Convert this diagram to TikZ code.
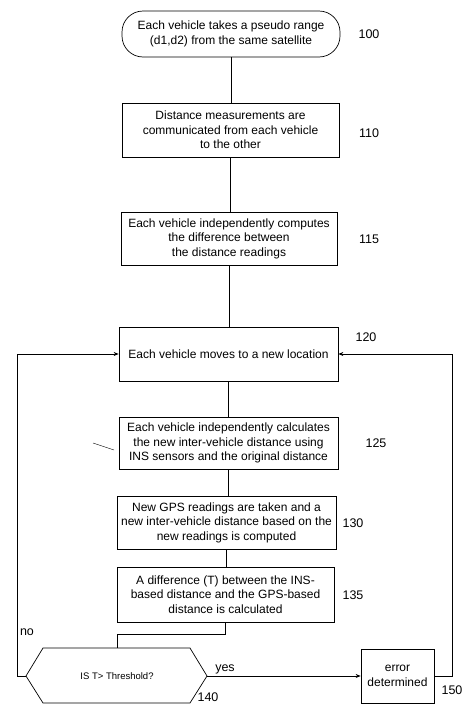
\documentclass[tikz,border=0pt]{standalone}
\usepackage{fontspec}
\setmainfont{Liberation Sans}
\usetikzlibrary{arrows.meta}
\begin{document}
\begin{tikzpicture}[x=1pt,y=-1pt,
  box/.style={draw, line width=0.7pt, align=center, inner sep=0pt, font=\fontsize{12}{14.5}\selectfont},
  lbl/.style={font=\fontsize{12.5}{14}\selectfont, inner sep=0pt},
  ln/.style={line width=0.7pt},
  arr/.style={ln, -{Stealth[length=5pt,width=4pt]}}]
\useasboundingbox (0,0) rectangle (474,718);
\node[box, rounded corners=21pt, minimum width=218pt, minimum height=46pt] (n100) at (231,34) {Each vehicle takes a pseudo range\\(d1,d2) from the same satellite};
\node[box, minimum width=217pt, minimum height=54pt] (n110) at (230.5,130) {Distance measurements are\\communicated from each vehicle\\to the other};
\node[box, minimum width=216pt, minimum height=53pt] (n115) at (229,238.5) {Each vehicle independently computes\\the difference between\\the distance readings};
\node[box, minimum width=219pt, minimum height=54pt] (n120) at (228.5,354) {Each vehicle moves to a new location};
\node[box, minimum width=219pt, minimum height=52pt] (n125) at (228.5,443) {Each vehicle independently calculates\\the new inter-vehicle distance using\\INS sensors and the original distance};
\node[box, minimum width=219pt, minimum height=53pt] (n130) at (226.5,522.5) {New GPS readings are taken and a\\new inter-vehicle distance based on the\\new readings is computed};
\node[box, minimum width=217pt, minimum height=55pt] (n135) at (225.5,594.5) {A difference (T) between the INS-\\based distance and the GPS-based\\distance is calculated};
\node[box, minimum width=73pt, minimum height=54pt] (n150) at (397.5,676) {error\\determined};
% decision hexagon
\coordinate (hexL) at (26,676);
\coordinate (hexR) at (207,676);
\coordinate (hexT) at (117,648);
\draw[ln] (hexL) -- (43,648) -- (190,648) -- (hexR) -- (190,703) -- (43,703) -- cycle;
\node[font=\fontsize{9.5}{11}\selectfont] (hex) at (117,676) {IS T> Threshold?};
% labels
\node[lbl] (l100) at (369,34) {100};
\node[lbl] (l110) at (369,133) {110};
\node[lbl] (l115) at (369,239) {115};
\node[lbl] (l120) at (366,337) {120};
\node[lbl] (l125) at (376,443) {125};
\node[lbl] (l130) at (353,523) {130};
\node[lbl] (l135) at (353,595) {135};
\node[lbl] (l140) at (208,697) {140};
\node[lbl] (l150) at (452,690) {150};
\node[lbl] (lno) at (27,632) {no};
\node[lbl] (lyes) at (225,669) {yes};
% connectors
\draw[ln] (n100.south) -- (n100.south |- n110.north);
\draw[ln] (n110.south) -- (n110.south |- n115.north);
\draw[ln] (n115.south) -- (n115.south |- n120.north);
\draw[ln] (n120.south) -- (n120.south |- n125.north);
\draw[ln] (n125.south) -- (n125.south |- n130.north);
\draw[ln] (n130.south) -- (n130.south |- n135.north);
\draw[ln] (n135.south) -- ++(0,12) -| (hexT);
\coordinate (leftc) at (17,676);
\coordinate (rightc) at (452,676);
\draw[arr] (hexL) -- (leftc) |- (n120.west);
\draw[arr] (hexR) -- (n150.west);
\draw[arr] (n150.east) -- (rightc) |- (n120.east);
\draw[line width=0.4pt] (93,443) -- (114,450);
\end{tikzpicture}
\end{document}
